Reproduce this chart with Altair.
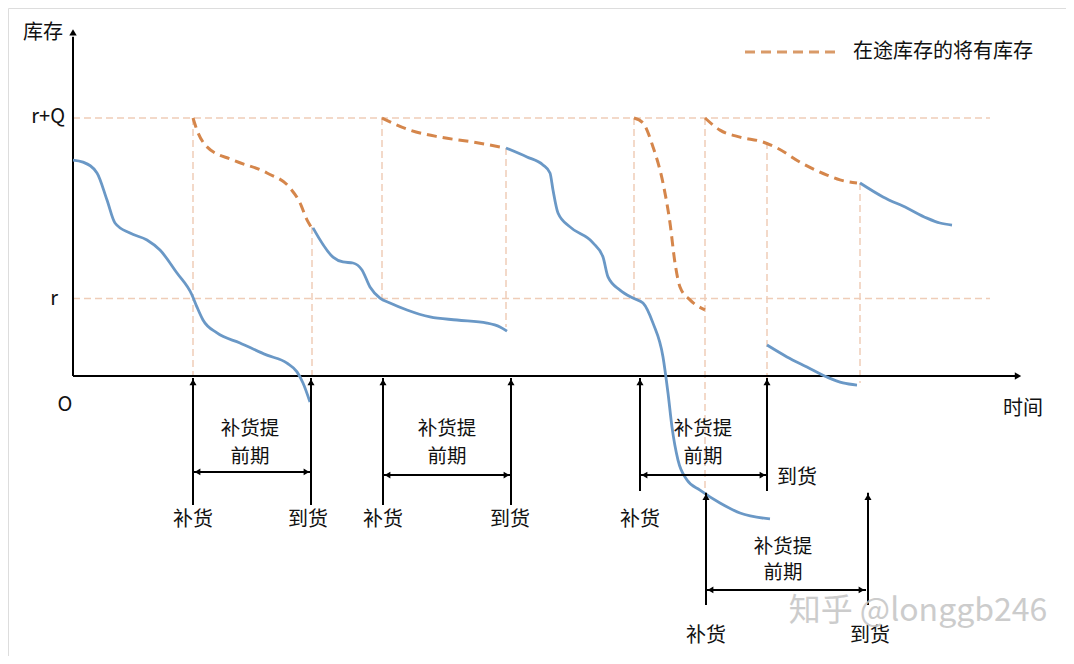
import altair as alt
import pandas as pd

# ---------------- data (time units, inventory units: r = 30, r+Q = 100) ----------------
R = 30
RQ = 100

# on-hand inventory (blue solid), five segments
blue_t = [
    [0, 1.0, 2.4, 3.4, 4.2, 5.7, 7.4, 8.7, 10.4, 11.9, 12.4, 13.0, 14.4, 16.7, 19.4, 21.4, 22.4, 23.0, 23.7],
    [24.0, 26.0, 27.0, 28.0, 28.9, 29.7, 30.7, 31.7, 33.4, 35.7, 38.4, 41.4, 42.7, 43.4],
    [43.3, 45.4, 47.0, 47.7, 48.0, 48.5, 49.7, 52.0, 53.0, 53.5, 54.7, 56.0, 57.0, 58.0, 59.0, 59.5, 59.9, 60.5, 61.4, 62.7, 64.7, 66.7, 69.7],
    [69.4, 71.4, 73.4, 75.4, 77.0, 78.4],
    [78.7, 81.0, 83.4, 85.4, 86.7, 87.9],
]
blue_v = [
    [83.7, 82.9, 78.7, 68.2, 59.3, 55.4, 52.7, 48.8, 39.9, 31.4, 26.7, 21.7, 16.7, 12.8, 8.1, 5.0, 1.6, -2.7, -10.1],
    [57.4, 46.1, 44.2, 43.8, 41.1, 34.5, 30.2, 28.3, 25.6, 22.9, 21.7, 20.5, 19.0, 17.4],
    [88.4, 84.9, 81.8, 78.7, 72.1, 63.2, 57.8, 51.6, 46.1, 38.4, 33.3, 30.2, 28.3, 20.5, 7.4, -6.6, -19.8, -32.6, -40.3, -44.2, -49.2, -53.1, -55.4],
    [12.0, 7.4, 3.5, -0.4, -2.7, -3.5],
    [74.8, 69.4, 65.1, 61.2, 59.3, 58.5],
]

# inventory position incl. in-transit (orange dashed), four segments
orange_t = [
    [12.0, 12.4, 13.4, 16.0, 19.4, 21.7, 22.7, 23.4, 23.8],
    [30.9, 33.7, 36.7, 40.0, 43.2],
    [56.1, 57.0, 58.0, 59.0, 59.7, 60.2, 60.7, 61.7, 63.2],
    [63.2, 64.7, 66.7, 69.0, 70.4, 72.7, 75.4, 76.7, 78.4],
]
orange_v = [
    [100, 95.3, 88.8, 83.7, 78.7, 72.9, 67.1, 60.5, 57.8],
    [100, 95.3, 92.6, 90.7, 88.4],
    [100, 98.1, 88.8, 74.8, 59.3, 43.8, 34.5, 29.5, 25.6],
    [100, 95.3, 92.6, 90.7, 88.4, 82.9, 77.9, 76.0, 74.8],
]

# light dashed guide lines
hguide_v = [RQ, R]
hguide_t_end = 91.7
vguide_t = [12.0, 23.9, 30.9, 43.3, 56.1, 63.2, 69.4, 78.7]
vguide_top = [100, 57.8, 100, 88.4, 100, 100, 90.7, 74.8]
vguide_bottom = [0, 0, 30, 19.0, 30, -44.2, -45.3, -2.7]

# vertical event arrows (补货 / 到货)
arrow_t = [12.0, 23.8, 31.0, 43.8, 56.7, 69.4, 63.3, 79.5]
arrow_bottom = [-50, -50, -50, -50, -44.6, -44.6, -88.8, -88.8]
arrow_tip = [-0.8, -0.8, -0.8, -0.8, -0.8, -0.8, -45.3, -45.3]

# lead-time double arrows
lead_t1 = [12.0, 31.0, 56.7, 63.3]
lead_t2 = [23.8, 43.8, 69.4, 79.3]
lead_v = [-37.2, -38.4, -38.4, -82.9]
lead_label_t = [17.7, 37.4, 63.0, 71.0]
lead_label_v1 = [-20.7, -20.7, -20.5, -66.1]
lead_label_v2 = [-31.4, -31.4, -31.4, -76.4]

# event labels
event_text = ["补货", "到货", "补货", "到货", "补货", "到货", "补货", "到货"]
event_t = [12.0, 23.5, 31.0, 43.7, 56.7, 72.4, 63.3, 79.7]
event_v = [-55.8, -55.8, -55.8, -55.8, -55.8, -39.5, -100.8, -100.8]

BLUE = "#6a98c6"
ORANGE = "#d5864b"
GUIDE = "#efcdb8"
FONT = "Noto Sans CJK SC"

# ---------------- frames ----------------
blue_df = pd.DataFrame([
    {"t": t, "v": v, "seg": i}
    for i, (ts, vs) in enumerate(zip(blue_t, blue_v)) for t, v in zip(ts, vs)
])
orange_df = pd.DataFrame([
    {"t": t, "v": v, "seg": i}
    for i, (ts, vs) in enumerate(zip(orange_t, orange_v)) for t, v in zip(ts, vs)
])
hguide_df = pd.DataFrame({"t": [0] * 2, "t2": [hguide_t_end] * 2, "v": hguide_v})
vguide_df = pd.DataFrame({"t": vguide_t, "v": vguide_top, "v2": vguide_bottom})
arrow_df = pd.DataFrame({"t": arrow_t, "v": arrow_bottom, "v2": arrow_tip})
arrow_head_df = pd.DataFrame({"t": arrow_t, "v": [a - 1.6 for a in arrow_tip]})
lead_df = pd.DataFrame({"t": lead_t1, "t2": lead_t2, "v": lead_v})
lead_left_df = pd.DataFrame({"t": [a + 0.45 for a in lead_t1], "v": lead_v})
lead_right_df = pd.DataFrame({"t": [a - 0.45 for a in lead_t2], "v": lead_v})
lead_lab1_df = pd.DataFrame({"t": lead_label_t, "v": lead_label_v1, "s": ["补货提"] * 4})
lead_lab2_df = pd.DataFrame({"t": lead_label_t, "v": lead_label_v2, "s": ["前期"] * 4})
event_df = pd.DataFrame({"t": event_t, "v": event_v, "s": event_text})

xs = alt.Scale(domain=[-6.5, 99.3], nice=False, zero=False)
ys = alt.Scale(domain=[-108.53, 142.64], nice=False, zero=False)
X = lambda f="t": alt.X(f"{f}:Q", scale=xs, axis=None)
Y = lambda f="v": alt.Y(f"{f}:Q", scale=ys, axis=None)

layers = []

# guides
layers.append(alt.Chart(hguide_df).mark_rule(color=GUIDE, strokeWidth=1.5, strokeDash=[7, 4]).encode(
    x=X(), x2="t2:Q", y=Y()))
layers.append(alt.Chart(vguide_df).mark_rule(color=GUIDE, strokeWidth=1.5, strokeDash=[7, 4]).encode(
    x=X(), y=Y(), y2="v2:Q"))

# axes
axis_df = pd.DataFrame({"t": [0, 0], "t2": [94.3, 0], "v": [0, 0], "v2": [0, 131.5]})
layers.append(alt.Chart(axis_df).mark_rule(color="black", strokeWidth=2).encode(
    x=X(), x2="t2:Q", y=Y(), y2="v2:Q"))
layers.append(alt.Chart(pd.DataFrame({"t": [0], "v": [133.2]})).mark_point(
    shape="triangle-up", filled=True, color="black", size=55, opacity=1).encode(x=X(), y=Y()))
layers.append(alt.Chart(pd.DataFrame({"t": [94.5], "v": [0]})).mark_point(
    shape="triangle-right", filled=True, color="black", size=55, opacity=1).encode(x=X(), y=Y()))

# curves
layers.append(alt.Chart(blue_df).mark_line(color=BLUE, strokeWidth=2.8, interpolate="monotone").encode(
    x=X(), y=Y(), detail="seg:N"))
layers.append(alt.Chart(orange_df).mark_line(color=ORANGE, strokeWidth=3, strokeDash=[10, 6],
                                             interpolate="monotone").encode(
    x=X(), y=Y(), detail="seg:N"))

# event arrows
layers.append(alt.Chart(arrow_df).mark_rule(color="black", strokeWidth=2).encode(x=X(), y=Y(), y2="v2:Q"))
layers.append(alt.Chart(arrow_head_df).mark_point(
    shape="triangle-up", filled=True, color="black", size=50, opacity=1).encode(x=X(), y=Y()))
layers.append(alt.Chart(lead_df).mark_rule(color="black", strokeWidth=2).encode(x=X(), x2="t2:Q", y=Y()))
layers.append(alt.Chart(lead_left_df).mark_point(
    shape="triangle-left", filled=True, color="black", size=45, opacity=1).encode(x=X(), y=Y()))
layers.append(alt.Chart(lead_right_df).mark_point(
    shape="triangle-right", filled=True, color="black", size=45, opacity=1).encode(x=X(), y=Y()))

txt = dict(font=FONT, fontSize=20, color="#111111", baseline="middle", align="center")
lead_txt = dict(font=FONT, fontSize=19.5, color="#111111", baseline="middle", align="center")
layers.append(alt.Chart(lead_lab1_df).mark_text(**lead_txt).encode(x=X(), y=Y(), text="s:N"))
layers.append(alt.Chart(lead_lab2_df).mark_text(**lead_txt).encode(x=X(), y=Y(), text="s:N"))
layers.append(alt.Chart(event_df).mark_text(**txt).encode(x=X(), y=Y(), text="s:N"))

# axis labels
axis_lab_df = pd.DataFrame({
    "t": [-3.0, -0.8, -1.9, -0.8, 95.0],
    "v": [133.0, 100.4, 29.8, -11.2, -12.8],
    "s": ["库存", "r+Q", "r", "O", "时间"],
    "a": ["center", "right", "center", "center", "center"],
})
layers.append(alt.Chart(axis_lab_df[axis_lab_df.a == "center"]).mark_text(**txt).encode(
    x=X(), y=Y(), text="s:N"))
layers.append(alt.Chart(axis_lab_df[axis_lab_df.a == "right"]).mark_text(
    font=FONT, fontSize=20, color="#111111", baseline="middle", align="right").encode(
    x=X(), y=Y(), text="s:N"))

# legend
legend_line_df = pd.DataFrame({"t": [67.2], "t2": [76.5], "v": [125.6]})
layers.append(alt.Chart(legend_line_df).mark_rule(color="#d99a68", strokeWidth=3, strokeDash=[10, 6]).encode(
    x=X(), x2="t2:Q", y=Y()))
layers.append(alt.Chart(pd.DataFrame({"t": [78.0], "v": [125.6], "s": ["在途库存的将有库存"]})).mark_text(
    font=FONT, fontSize=20, color="#111111", baseline="middle", align="left").encode(
    x=X(), y=Y(), text="s:N"))

# watermark
layers.append(alt.Chart(pd.DataFrame({"t": [84.5], "v": [-91.0], "s": ["知乎 @longgb246"]})).mark_text(
    font=FONT, fontSize=32, color="#c4c4c4", opacity=0.85, baseline="middle", align="center").encode(
    x=X(), y=Y(), text="s:N"))

chart = alt.layer(*layers).properties(
    width=1058, height=648, padding=0, autosize=alt.AutoSizeParams(type="none")
).configure_view(stroke="transparent", strokeWidth=0).configure(background="white")

chart.save("out.html", embed_options={"renderer": "svg", "actions": False})
